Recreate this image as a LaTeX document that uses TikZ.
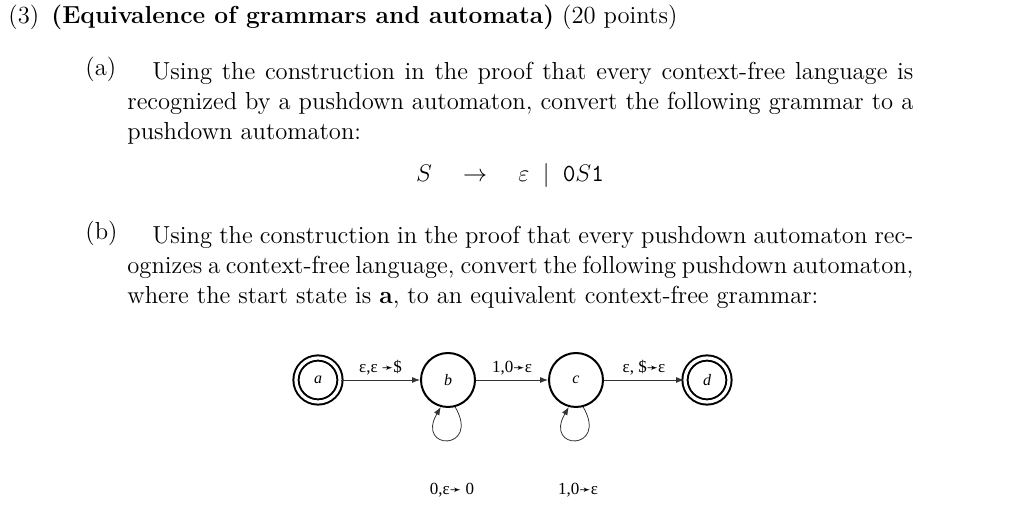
\documentclass[tikz,border=0pt]{standalone}
\usepackage{fontspec}
\usetikzlibrary{arrows.meta}
\newfontfamily\lblfont{Liberation Serif}
\newfontfamily\dvfont{DejaVu Sans}
\newcommand{\ar}{{\dvfont\scalebox{0.8}{➛}}}
\tikzset{
  txt/.style={anchor=base west,inner sep=0pt,font=\fontsize{12.3}{15}\selectfont},
  par/.style={txt,text width=393pt,align=justify},
  st/.style={circle,draw,line width=1pt,minimum size=27pt,inner sep=0pt,font=\lblfont\itshape\fontsize{8}{9}\selectfont},
  acc/.style={st,double,double distance=1.6pt,minimum size=22pt},
  tr/.style={draw=black!80,line width=0.4pt,-{Latex[length=4pt,width=3pt]}},
  lb/.style={font=\lblfont\fontsize{8.5}{10}\selectfont,inner sep=1pt}
}
\begin{document}
\begin{tikzpicture}[x=0.5pt,y=-0.5pt]
\useasboundingbox (0,0) rectangle (1024,528);
\node[txt] (t) at (8,24) {(3)\enspace\textbf{(Equivalence of grammars and automata)} (20 points)};
\node[txt] (pa) at (85,76) {(a)};
\node[par,anchor=north west] (ta) at (127,62) {\hspace*{12.5pt}Using the construction in the proof that every context-free language is recognized by a pushdown automaton, convert the following grammar to a pushdown automaton:};
\node[txt,anchor=base] (g) at (510,182) {$S \quad\to\quad \varepsilon \;\mid\; \mathtt{0}S\mathtt{1}$};
\node[txt] (pb) at (85,240) {(b)};
\node[par,anchor=north west] (tb) at (127,226) {\hspace*{12.5pt}Using the construction in the proof that every pushdown automaton rec\-ognizes a context-free language, convert the following pushdown automaton, where the start state is \textbf{a}, to an equivalent context-free grammar:};
\node[acc] (a) at (318,380) {a};
\node[st] (b) at (448,380) {b};
\node[st] (c) at (576,380) {c};
\node[acc] (d) at (707,380) {d};
\draw[tr] (a) -- node[lb,above=1pt] {ε,ε \ar\$} (b);
\draw[tr] (b) -- node[lb,above=1pt] {1,0\ar ε} (c);
\draw[tr] (c) -- node[lb,above=1pt] {ε, \$\ar ε} (d);
\draw[tr] (b.-75) to[out=-60,in=-120,looseness=9] (b.-105);
\draw[tr] (c.-75) to[out=-60,in=-120,looseness=9] (c.-105);
\node[lb] (lb1) at (452,490) {0,ε\ar\ 0};
\node[lb] (lb2) at (578,490) {1,0\ar ε};
\end{tikzpicture}
\end{document}
